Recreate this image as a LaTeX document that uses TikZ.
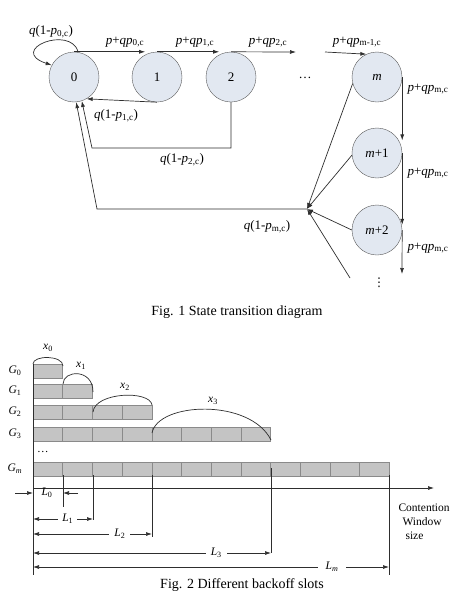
\documentclass[tikz,border=0pt]{standalone}
\usepackage{fontspec}
\setmainfont{Liberation Serif}
\newfontfamily\symfont{DejaVu Sans}
\usetikzlibrary{arrows.meta}
\definecolor{StateFill}{HTML}{E2E8F1}
\definecolor{StateEdge}{HTML}{5A5A5A}
\definecolor{SlotFill}{HTML}{C4C4C4}
\definecolor{SlotEdge}{HTML}{8A8A8A}
\definecolor{LineGray}{HTML}{2E2E2E}

\begin{document}
\begin{tikzpicture}[x=1pt, y=-1pt, font=\fontsize{13}{15}\selectfont,
  state/.style={circle, draw=StateEdge, fill=StateFill, minimum size=50pt, inner sep=0pt},
  edge/.style={-{Latex[length=6pt,width=4pt]}, line width=0.7pt, draw=LineGray},
  dim/.style={{Latex[length=6pt,width=4pt]}-{Latex[length=6pt,width=4pt]}, line width=0.7pt, draw=LineGray},
  tick/.style={line width=0.7pt, draw=LineGray},
  slot/.style={draw=SlotEdge, fill=SlotFill, line width=0.5pt},
  small/.style={font=\fontsize{11.5}{14}\selectfont},
  caption/.style={font=\fontsize{14}{16}\selectfont}]
\useasboundingbox (0,0) rectangle (474,603);

\node[state] (s0) at (74,77) {0};
\node[state] (s1) at (157,77) {1};
\node[state] (s2) at (231,77) {2};
\node (dots) at (305,78) {\dots};
\node[state] (sm) at (377,77) {\textit{m}};
\node[state] (sm1) at (377,153) {\textit{m}+1};
\node[state] (sm2) at (377,230) {\textit{m}+2};
\node[font=\symfont\fontsize{12}{14}\selectfont] (vdots) at (379,283) {⋮};
\coordinate (e2) at (296,52);
\coordinate (b) at (325,52);
\coordinate (e3) at (402,274);
\coordinate (f) at (350,278);
\coordinate (c) at (307,209);

\draw[edge] (s0.80) .. controls +(-8,-28) and +(-45,-15) .. (s0.152);
\draw[edge] (s0.north) -- (s0.north -| s1.118);
\draw[edge] (s1.north) -- (s1.north -| s2.118);
\draw[edge] (s2.north) -- (e2);
\draw[edge] (b) -- (sm.115);
\draw[edge] (sm.east) -- (sm.east |- sm1.30);
\draw[edge] (sm1.east) -- (sm1.east |- sm2.12);
\draw[edge] (sm2.east) -- (e3);
\draw[edge] (sm.195) -- (c);
\draw[edge] (sm1.185) -- (c);
\draw[edge] (sm2.west) -- (c);
\draw[edge] (f) -- (c);
\draw[edge] (c) -- (97,209) -- (s0.275);
\draw[edge] (s1.south) -- (s0.300);
\draw[edge] (s2.south) |- (92,148) -- (s0.288);

\node (l00) at (51,32) {\textit{q}(1-\textit{p}\textsubscript{0,c})};
\node (l01) at (125,42) {\textit{p}+\textit{qp}\textsubscript{0,c}};
\node (l12) at (195,42) {\textit{p}+\textit{qp}\textsubscript{1,c}};
\node (l23) at (268,42) {\textit{p}+\textit{qp}\textsubscript{2,c}};
\node (lbm) at (357,42) {\textit{p}+\textit{qp}\textsubscript{m-1,c}};
\node (lm1) at (428,89) {\textit{p}+\textit{qp}\textsubscript{m,c}};
\node (lm2) at (428,173) {\textit{p}+\textit{qp}\textsubscript{m,c}};
\node (lm3) at (428,248) {\textit{p}+\textit{qp}\textsubscript{m,c}};
\node (l10) at (116,116) {\textit{q}(1-\textit{p}\textsubscript{1,c})};
\node (l20) at (182,160) {\textit{q}(1-\textit{p}\textsubscript{2,c})};
\node (lm0) at (267,227) {\textit{q}(1-\textit{p}\textsubscript{m,c})};
\node[caption] (cap1) at (237,312) {Fig. 1 State transition diagram};

\foreach \g/\y/\n in {0/364/1, 1/384/2, 2/405/4, 3/427/8, {\textit{m}}/462/12} {
  \foreach \i in {1,...,\n}
    \draw[slot] ({33+(\i-1)*29.7},\y) rectangle ++(29.7,14);
  \node[small] at (15,\y+7) {\textit{G}\textsubscript{\g}};
}
\node[small] (gdots) at (43,452) {\dots};

\draw[tick] (33,364) .. controls (33,355) and (63,355) .. (63,366);
\draw[tick] (63,384) .. controls (63,370) and (93,368) .. (93,392);
\draw[tick] (93,412) .. controls (95,392) and (150,390) .. (152,405);
\draw[tick] (152,433) .. controls (158,402) and (250,398) .. (271,440);
\node[small] (x0) at (48,348) {\textit{x}\textsubscript{0}};
\node[small] (x1) at (81,366) {\textit{x}\textsubscript{1}};
\node[small] (x2) at (125,387) {\textit{x}\textsubscript{2}};
\node[small] (x3) at (213,401) {\textit{x}\textsubscript{3}};

\coordinate (o) at (33,488);
\coordinate (ax) at (434,488);
\draw[edge] (o) -- (ax);
\node[small, align=left, anchor=north west] (cws) at (395,500) {Contention\\\hspace{4pt}Window\\\hspace{7pt}size};

\draw[tick] (33,364) -- (33,575);
\draw[tick] (63,475) -- (63,507);
\draw[tick] (93,475) -- (93,520);
\draw[tick] (152,475) -- (152,537);
\draw[tick] (271,468) -- (271,553);
\draw[tick] (389,475) -- (389,575);

\draw[edge] (15,493) -- (33,493);
\draw[edge] (78,493) -- (63,493);
\node[small] (d0) at (47,493) {\textit{L}\textsubscript{0}};
\draw[dim] (33,519) -- (93,519) node[small, pos=0.58, fill=white, inner xsep=4pt, inner ysep=1pt] (d1) {\textit{L}\textsubscript{1}};
\draw[dim] (33,534) -- (152,534) node[small, pos=0.73, fill=white, inner xsep=5pt, inner ysep=1pt] (d2) {\textit{L}\textsubscript{2}};
\draw[dim] (33,553) -- (271,553) node[small, pos=0.77, fill=white, inner xsep=5pt, inner ysep=1pt] (d3) {\textit{L}\textsubscript{3}};
\draw[dim] (33,567) -- (389,567) node[small, pos=0.84, fill=white, inner xsep=8pt, inner ysep=1pt] (dm) {\textit{L}\textsubscript{\textit{m}}};
\node[caption] (cap2) at (242,585) {Fig. 2 Different backoff slots};
\end{tikzpicture}
\end{document}
